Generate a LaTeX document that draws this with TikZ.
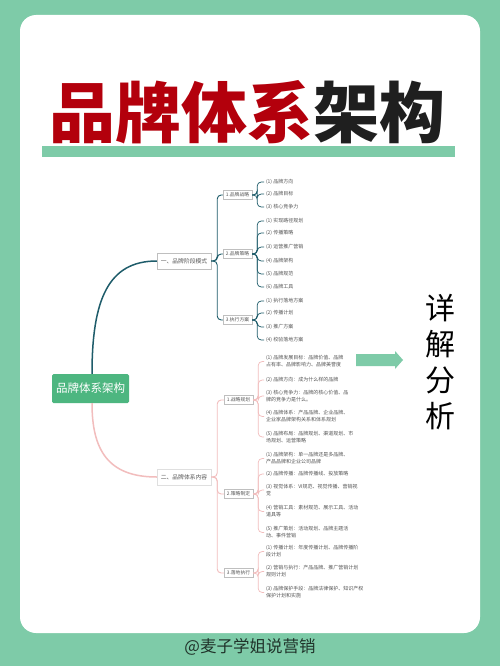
\documentclass[tikz,border=0pt]{standalone}
\usepackage{fontspec}
\newfontfamily\cjk{Noto Sans CJK SC}
\definecolor{bggreen}{HTML}{7ECBA8}
\definecolor{rootgreen}{HTML}{4DB680}
\definecolor{titlered}{HTML}{B3000C}
\definecolor{tealline}{HTML}{1E5C6A}
\definecolor{pinkline}{HTML}{F2BDBD}
\definecolor{leafgray}{HTML}{555555}
\tikzset{
  lvlone/.style={draw=gray!50, fill=white, font=\cjk\fontsize{5.8}{7}\selectfont, text=leafgray, inner xsep=3pt, minimum height=16pt, minimum width=54pt},
  lvltwo/.style={draw=gray!50, fill=white, font=\cjk\fontsize{4.8}{6}\selectfont, text=leafgray, inner xsep=2pt, minimum height=9pt, minimum width=29pt, inner ysep=1pt},
  leaf/.style={anchor=west, font=\cjk\fontsize{5}{7}\selectfont, text=leafgray, align=left, inner sep=0pt, outer sep=2pt},
  topln/.style={tealline, line width=0.9pt, rounded corners=4pt},
  botln/.style={pinkline, line width=0.9pt, rounded corners=4pt},
}
\begin{document}
\begin{tikzpicture}[x=1pt,y=-1pt]
\useasboundingbox (0,0) rectangle (500,666);
\fill[bggreen] (0,0) rectangle (500,666);
\fill[white, rounded corners=16pt] (20,15) rectangle (480,633);
% title
\node (title) at (247,112) {\cjk\bfseries\fontsize{66}{70}\selectfont\textcolor{titlered}{品牌体系}\textcolor{black!88}{架构}};
\fill[bggreen] (42,146) rectangle (455,157);
% arrow
\fill[bggreen] (356,354) -- (395,354) -- (395,351) -- (403,360) -- (395,369) -- (395,366) -- (356,366) -- cycle;
% vertical text
\node (xiang) at (440,308) {\cjk\fontsize{30}{32}\selectfont 详};
\node (jie) at (440,344) {\cjk\fontsize{30}{32}\selectfont 解};
\node (fen) at (440,380) {\cjk\fontsize{30}{32}\selectfont 分};
\node (xi) at (440,416) {\cjk\fontsize{30}{32}\selectfont 析};
% footer
\node (footer) at (250,647) {\cjk\fontsize{16.5}{18}\selectfont\textcolor{black!75!bggreen}{@麦子学姐说营销}};

% root
\node[fill=rootgreen, rounded corners=1.5pt, minimum width=77pt, minimum height=29pt, font=\cjk\fontsize{11.5}{13}\selectfont, text=white] (root) at (90.5,388.5) {品牌体系架构};

% level 1
\node[lvlone] (m1) at (184,261) {一、品牌阶段模式};
\node[lvlone, draw=gray!25] (m2) at (184,477) {二、品牌体系内容};
\draw[tealline, line width=1.5pt] (root.north -| 92,0) .. controls (92,300) and (108,261) .. (m1.west);
\draw[pinkline, line width=1.5pt] (root.south -| 92,0) .. controls (92,450) and (108,477) .. (m2.west);

% level 2 top
\node[lvltwo] (a1) at (237.5,195) {1.品牌战略};
\node[lvltwo] (a2) at (237.5,254) {2.品牌策略};
\node[lvltwo] (a3) at (237.5,320) {3.执行方案};
\foreach \c in {a1,a2,a3} \draw[topln] (m1.east) -- ++(6,0) |- (\c.west);

% leaves top
\node[leaf] (a11) at (264,182) {(1)\ 品牌方向};
\node[leaf] (a12) at (264,194) {(2)\ 品牌目标};
\node[leaf] (a13) at (264,207) {(3)\ 核心竞争力};
\node[leaf] (a21) at (264,221) {(1)\ 实现路径规划};
\node[leaf] (a22) at (264,233) {(2)\ 传播策略};
\node[leaf] (a23) at (264,247) {(3)\ 运营推广营销};
\node[leaf] (a24) at (264,261) {(4)\ 品牌架构};
\node[leaf] (a25) at (264,274) {(5)\ 品牌规范};
\node[leaf] (a26) at (264,287) {(6)\ 品牌工具};
\node[leaf] (a31) at (264,301) {(1)\ 执行落地方案};
\node[leaf] (a32) at (264,313) {(2)\ 传播计划};
\node[leaf] (a33) at (264,327) {(3)\ 推广方案};
\node[leaf] (a34) at (264,340) {(4)\ 校验落地方案};
\foreach \c in {a11,a12,a13} \draw[topln, line width=0.7pt] (a1.east) -- ++(5,0) |- (\c.west);
\foreach \c in {a21,a22,a23,a24,a25,a26} \draw[topln, line width=0.7pt] (a2.east) -- ++(5,0) |- (\c.west);
\foreach \c in {a31,a32,a33,a34} \draw[topln, line width=0.7pt] (a3.east) -- ++(5,0) |- (\c.west);

% level 2 bottom
\node[lvltwo] (b1) at (238.5,400) {1.战略规划};
\node[lvltwo] (b2) at (238.5,494) {2.策略制定};
\node[lvltwo] (b3) at (238.5,573) {3.落地执行};
\foreach \c in {b1,b2,b3} \draw[botln] (m2.east) -- ++(6,0) |- (\c.west);

% leaves bottom
\node[leaf] (b11) at (264,361.5) {(1)\ 品牌发展目标：品牌价值、品牌\\占有率、品牌影响力、品牌美誉度};
\node[leaf] (b12) at (264,380) {(2)\ 品牌方向：成为什么样的品牌};
\node[leaf] (b13) at (264,396) {(3)\ 核心竞争力：品牌的核心价值、品\\牌的竞争力是什么。};
\node[leaf] (b14) at (264,416.5) {(4)\ 品牌体系：产品品牌、企业品牌、\\企业家品牌架构关系和体系规划};
\node[leaf] (b15) at (264,437) {(5)\ 品牌布局：品牌规划、渠道规划、市\\场规划、运营策略};
\node[leaf] (b21) at (264,458.5) {(1)\ 品牌架构：单一品牌还是多品牌、\\产品品牌和企业公司品牌};
\node[leaf] (b22) at (264,474) {(2)\ 品牌传播：品牌传播线、投放策略};
\node[leaf] (b23) at (264,490) {(3)\ 视觉体系：VI规范、视觉传播、营销视\\觉};
\node[leaf] (b24) at (264,511.5) {(4)\ 营销工具：素材规范、展示工具、活动\\道具等};
\node[leaf] (b25) at (264,532.5) {(5)\ 推广策划：活动规划、品牌主题活\\动、事件营销};
\node[leaf] (b31) at (264,551.5) {(1)\ 传播计划：年度传播计划、品牌传播阶\\段计划};
\node[leaf] (b32) at (264,571.5) {(2)\ 营销与执行：产品品牌、推广营销计划\\规则计划};
\node[leaf] (b33) at (264,592.5) {(3)\ 品牌保护手段：品牌法律保护、知识产权\\保护计划和实施};
\foreach \c in {b11,b12,b13,b14,b15} \draw[botln, line width=0.7pt] (b1.east) -- ++(5,0) |- (\c.west);
\foreach \c in {b21,b22,b23,b24,b25} \draw[botln, line width=0.7pt] (b2.east) -- ++(5,0) |- (\c.west);
\foreach \c in {b31,b32,b33} \draw[botln, line width=0.7pt] (b3.east) -- ++(5,0) |- (\c.west);
\end{tikzpicture}
\end{document}
